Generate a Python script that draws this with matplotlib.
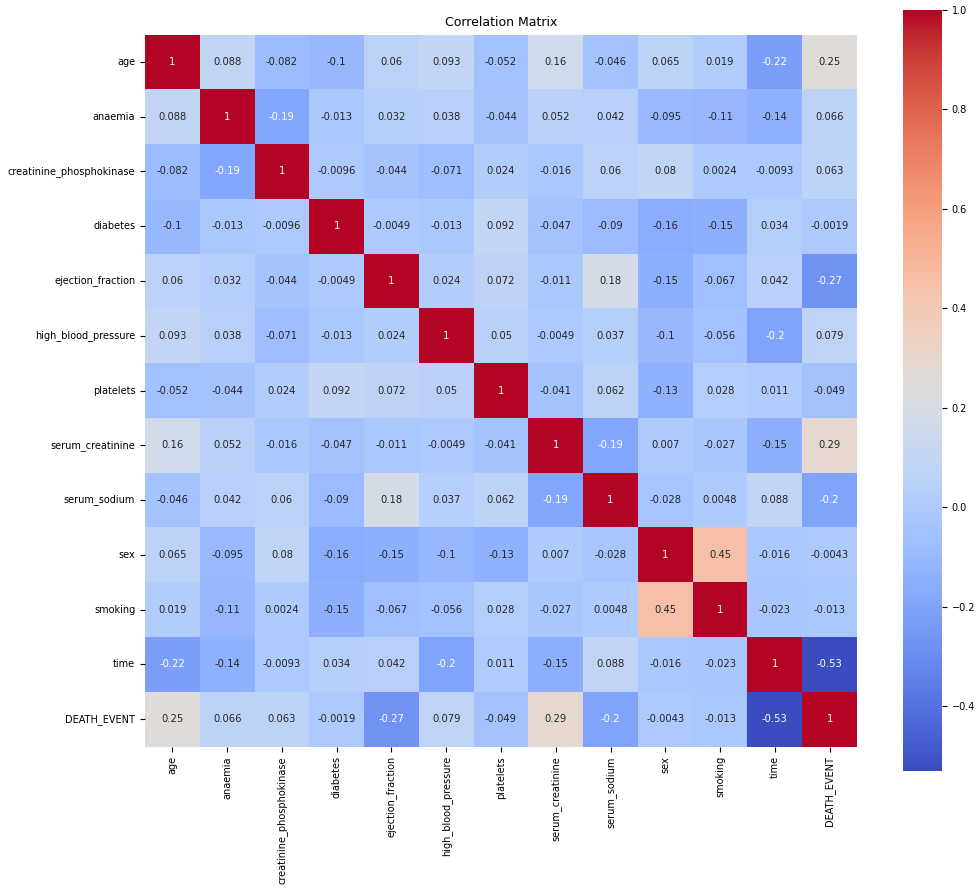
import matplotlib
matplotlib.use("Agg")
import matplotlib.pyplot as plt
import seaborn as sns
import numpy as np
import pandas as pd

labels = ["age", "anaemia", "creatinine_phosphokinase", "diabetes", "ejection_fraction",
          "high_blood_pressure", "platelets", "serum_creatinine", "serum_sodium", "sex",
          "smoking", "time", "DEATH_EVENT"]

row_age = [1, .088, -.082, -.1, .06, .093, -.052, .16, -.046, .065, .019, -.22, .25]
row_anaemia = [.088, 1, -.19, -.013, .032, .038, -.044, .052, .042, -.095, -.11, -.14, .066]
row_cpk = [-.082, -.19, 1, -.0096, -.044, -.071, .024, -.016, .06, .08, .0024, -.0093, .063]
row_diabetes = [-.1, -.013, -.0096, 1, -.0049, -.013, .092, -.047, -.09, -.16, -.15, .034, -.0019]
row_ef = [.06, .032, -.044, -.0049, 1, .024, .072, -.011, .18, -.15, -.067, .042, -.27]
row_hbp = [.093, .038, -.071, -.013, .024, 1, .05, -.0049, .037, -.1, -.056, -.2, .079]
row_platelets = [-.052, -.044, .024, .092, .072, .05, 1, -.041, .062, -.13, .028, .011, -.049]
row_sc = [.16, .052, -.016, -.047, -.011, -.0049, -.041, 1, -.19, .007, -.027, -.15, .29]
row_ss = [-.046, .042, .06, -.09, .18, .037, .062, -.19, 1, -.028, .0048, .088, -.2]
row_sex = [.065, -.095, .08, -.16, -.15, -.1, -.13, .007, -.028, 1, .45, -.016, -.0043]
row_smoking = [.019, -.11, .0024, -.15, -.067, -.056, .028, -.027, .0048, .45, 1, -.023, -.013]
row_time = [-.22, -.14, -.0093, .034, .042, -.2, .011, -.15, .088, -.016, -.023, 1, -.53]
row_death = [.25, .066, .063, -.0019, -.27, .079, -.049, .29, -.2, -.0043, -.013, -.53, 1]

corr = pd.DataFrame([row_age, row_anaemia, row_cpk, row_diabetes, row_ef, row_hbp,
                     row_platelets, row_sc, row_ss, row_sex, row_smoking, row_time,
                     row_death], index=labels, columns=labels)

W, H = 979, 893
fig = plt.figure(figsize=(W / 100, H / 100), dpi=100)
ax = fig.add_axes([145 / W, 1 - 748 / H, 712 / W, 715 / H])
cax = fig.add_axes([903 / W, 1 - 771 / H, 39 / W, 761 / H])

sns.heatmap(corr, annot=True, cmap="coolwarm", square=True, ax=ax, cbar_ax=cax,
            annot_kws={"fontsize": 7.2})
ax.tick_params(labelsize=7)
cax.tick_params(labelsize=7)
ax.set_title("Correlation Matrix", fontsize=9)
fig.savefig("out.png", dpi=100)
